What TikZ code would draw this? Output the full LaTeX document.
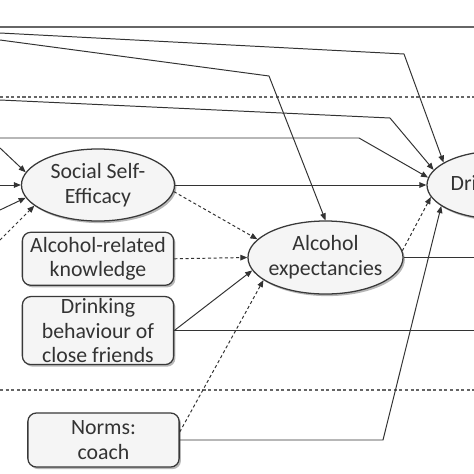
\documentclass[tikz,border=0pt]{standalone}
\usepackage{fontspec}
\setmainfont{Carlito}
\usetikzlibrary{positioning, arrows.meta, shapes.geometric, shadows}

\begin{document}
\begin{tikzpicture}[
    x=0.025cm, y=-0.025cm,
    node distance=0.25cm,
    shaded/.style={draw=gray!45!black, fill=gray!8, line width=0.9pt, text=black!80,
                   font=\fontsize{15.5}{17.6}\selectfont, align=center, inner sep=1pt,
                   drop shadow={shadow xshift=1.3pt, shadow yshift=-1.5pt, fill=gray!80, opacity=0.7}},
    latent/.style={shaded, ellipse, inner xsep=-3pt},
    observed/.style={shaded, rounded corners=6pt, minimum width=3.78cm},
    arrow/.style={-{Triangle[length=5pt, width=4pt]}, line width=0.7pt, black!80},
    dasharrow/.style={arrow, dash pattern=on 2.2pt off 1.8pt},
    plain/.style={line width=0.7pt, black!80},
    divider/.style={line width=0.8pt, gray!80!black},
]

\useasboundingbox (0,0) rectangle (474,474);
\clip (0,0) rectangle (474,474);

% group dividers
\draw[divider] (0,27) -- (474,27);
\draw[divider, dash pattern=on 2.2pt off 1.8pt] (0,97) -- (474,97);
\draw[divider, dash pattern=on 2.2pt off 1.8pt] (0,390) -- (474,390);

\node[latent, minimum width=3.825cm, minimum height=1.8cm] (sse) at (98,185) {Social Self-\\Efficacy};
\node[observed, minimum height=1.325cm, below=of sse] (know) {Alcohol-related\\knowledge};
\node[observed, minimum height=1.7cm, below=of know] (friends) {Drinking\\behaviour of\\close friends};
\node[observed, minimum height=1.35cm] (norms) at (103.5,440) {Norms:\\coach};
\node[latent, minimum width=3.875cm, minimum height=1.825cm] (ae) at (325.5,257.5) {Alcohol\\expectancies};
\node[latent, minimum width=3.6cm, minimum height=1.7cm] (dr) at (499,185) {\hspace*{-16pt}Drinking};

% loose ends at the edges of the picture
\coordinate (inA) at (0,33);
\coordinate (inB) at (0,40);
\coordinate (inC) at (0,100);
\coordinate (inD) at (0,138);
\coordinate (inE) at (0,148);
\coordinate (inF) at (0,185);
\coordinate (inG) at (0,210);
\coordinate (inH) at (0,240);
\coordinate (bendA) at (404,54);
\coordinate (bendB) at (269,76);
\coordinate (bendC) at (390,118);
\coordinate (bendD) at (359,138);
\coordinate (bendN) at (383,440);
\coordinate (edge) at (474,0);

% paths from the left
\draw[arrow] (inA) -- (bendA) -- (dr.158);
\draw[arrow] (inB) -- (bendB) -- (ae.north);
\draw[arrow] (inC) -- (bendC) -- (dr.167);
\draw[arrow] (inD) -- (bendD) -- (dr.174);
\foreach \a/\b in {inE/sse.170, inF/sse.west, inG/sse.190}{
    \draw[arrow] (\a) -- (\b);
}
\draw[dasharrow] (inH) -- (sse.198);

% paths between the variables
\draw[arrow] (sse.east) -- (dr.west);
\draw[dasharrow] (sse.-5) -- (ae.165);
\draw[dasharrow] (know.east) -- (ae.west);
\draw[arrow] (friends.east) -- (ae.190);
\draw[dasharrow] (norms.6) -- (ae.200);
\draw[dasharrow] (ae.5) -- (dr.190);
\draw[arrow] (norms.east) -- (bendN) -- (dr.200);

% paths leaving on the right
\draw[plain] (ae.east) -- (ae.east -| edge);
\draw[plain] (friends.east) -- (friends.east -| edge);

\end{tikzpicture}
\end{document}
